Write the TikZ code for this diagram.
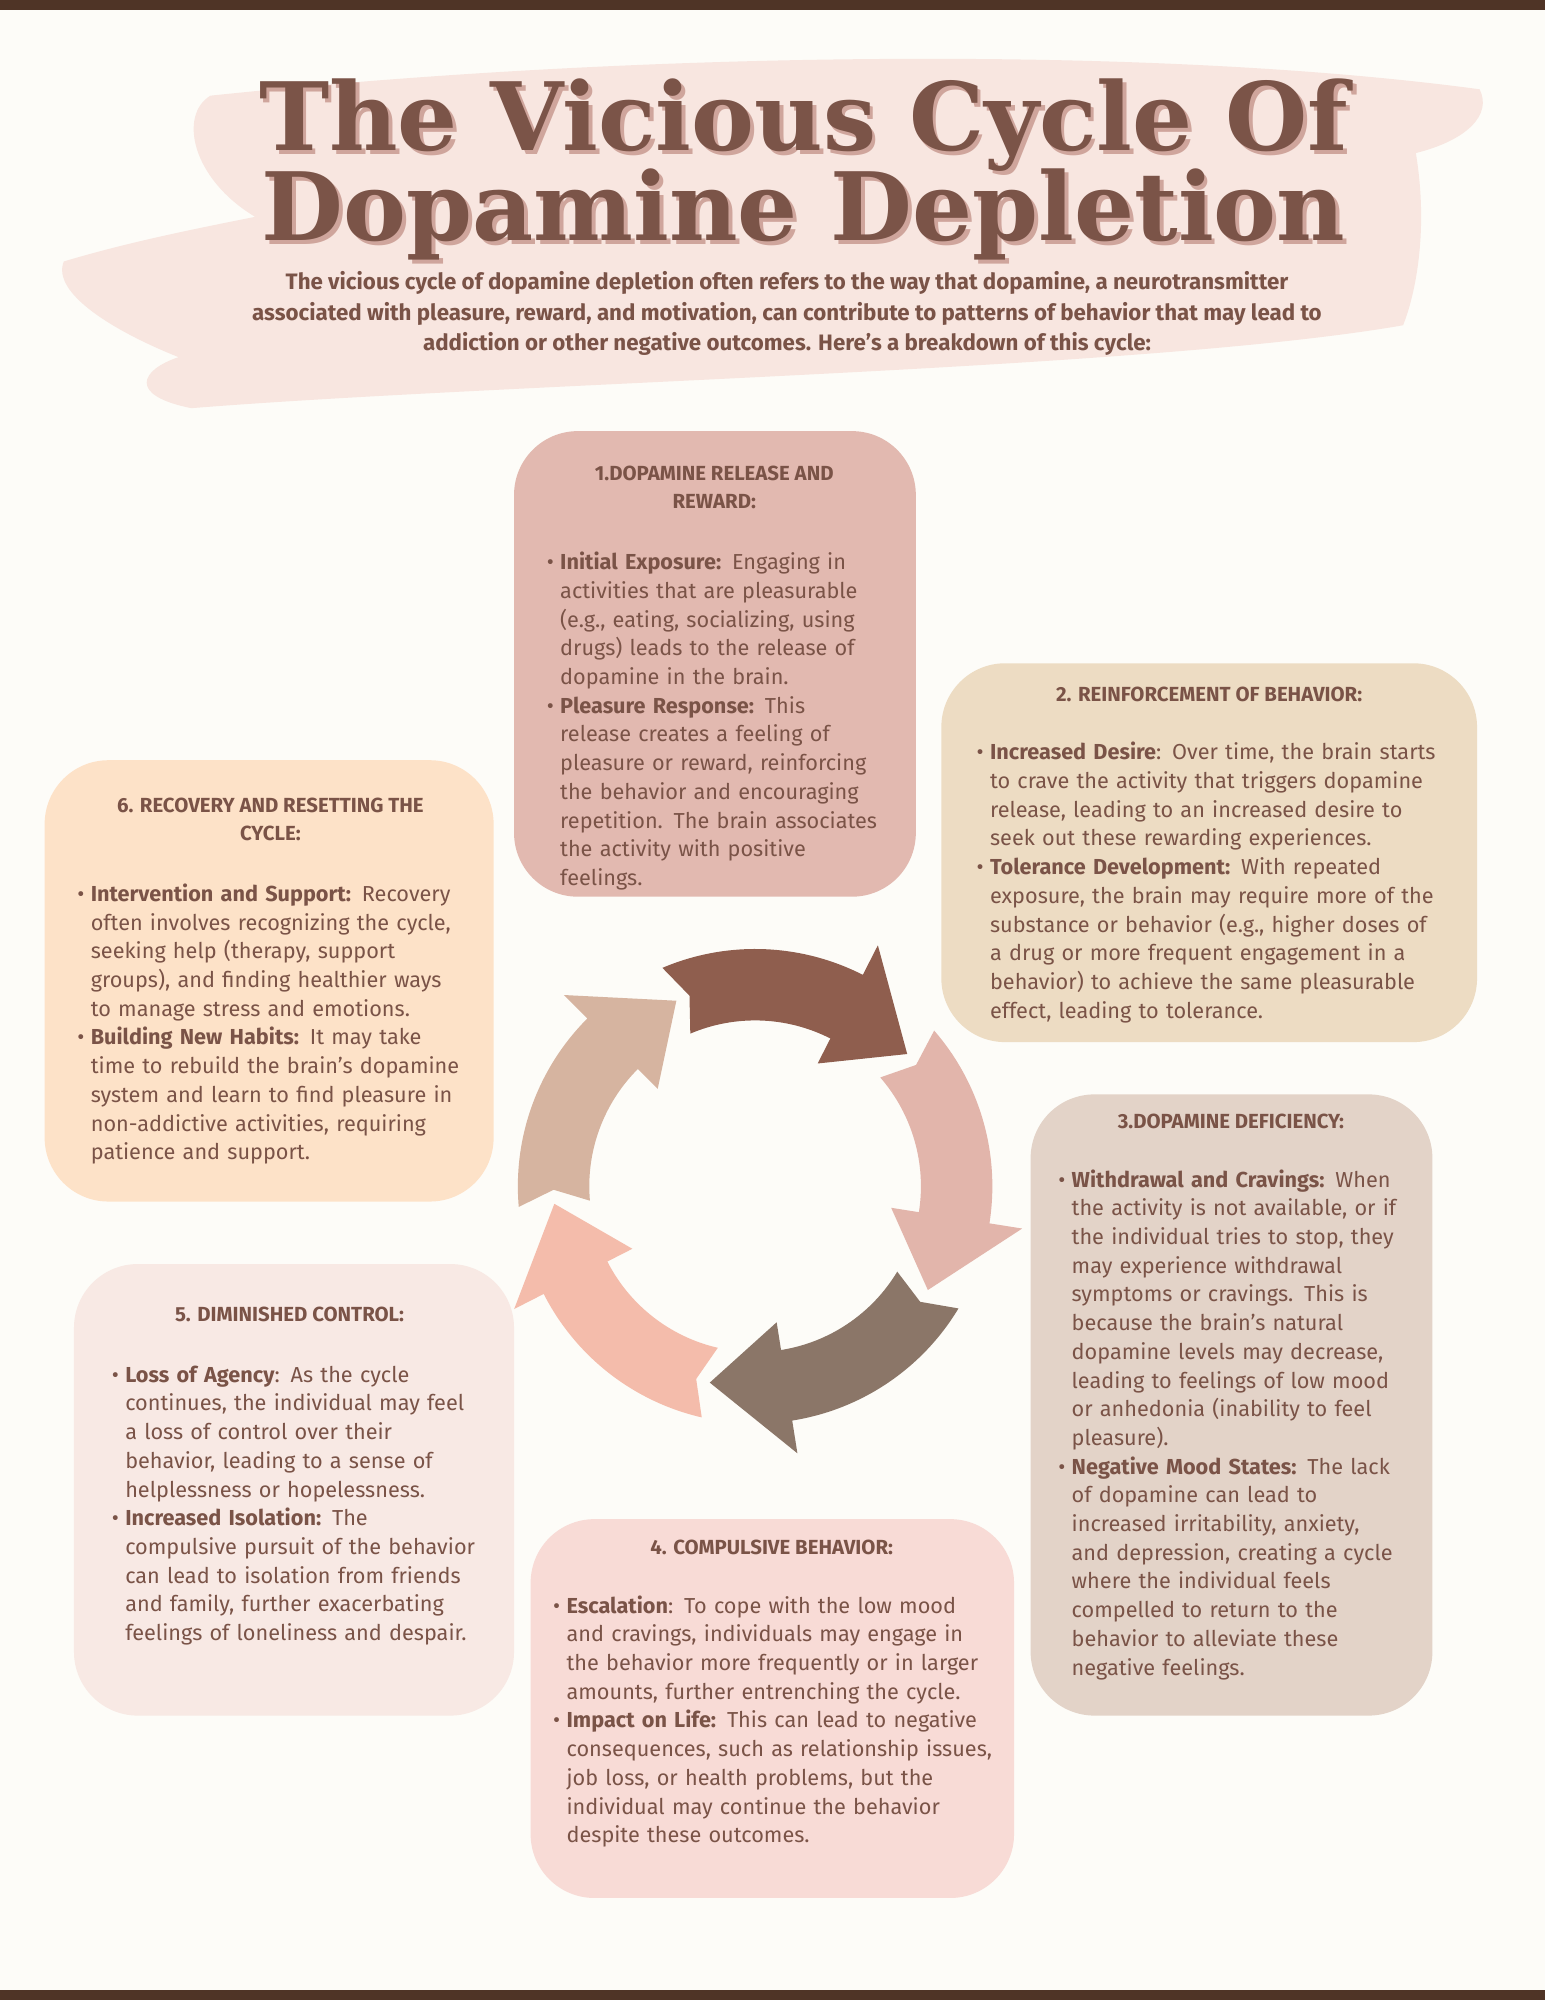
\documentclass[tikz,border=0pt]{standalone}
\usepackage{fontspec}
\setmainfont{Fira Sans}
\newfontfamily\titlefont{DejaVu Serif}
\usepackage{enumitem}
\setlist[itemize]{leftmargin=20pt,itemsep=0pt,topsep=6pt,parsep=0pt,partopsep=0pt,label=\textbullet}
\definecolor{bg}{HTML}{FDFCF8}
\definecolor{bar}{HTML}{4F3426}
\definecolor{txt}{HTML}{7A5347}
\definecolor{ttl}{HTML}{7B5448}
\definecolor{shd}{HTML}{CFA59C}
\definecolor{brush}{HTML}{F8E6E0}
\definecolor{cA}{HTML}{E2B9B0}
\definecolor{cB}{HTML}{EDDCC3}
\definecolor{cC}{HTML}{E3D3C8}
\definecolor{cD}{HTML}{F8DBD6}
\definecolor{cE}{HTML}{F8E9E4}
\definecolor{cF}{HTML}{FDE2C8}
\definecolor{aA}{HTML}{8F5E4E}
\definecolor{aB}{HTML}{E2B5AB}
\definecolor{aC}{HTML}{8B7668}
\definecolor{aD}{HTML}{F4BCAB}
\definecolor{aE}{HTML}{D6B4A0}
\tikzset{
 box/.style={rounded corners=50pt,draw=none},
 head/.style={anchor=north,align=center,text=txt,font=\fontsize{16}{22}\selectfont\bfseries},
 body/.style={anchor=north west,text=txt,font=\fontsize{17}{22.5}\selectfont,inner sep=0pt},
}
\newcommand{\cyc}[2]{% start angle, color
 \fill[#2] (#1:130) arc[start angle=#1,end angle=#1-50,radius=130] -- (#1-50:108)
  -- (#1-72:158) -- (#1-50:212) -- (#1-50:186)
  arc[start angle=#1-50,end angle=#1,radius=186] -- (#1-4:158) -- cycle;}
\begin{document}
\begin{tikzpicture}[x=1pt,y=1pt]
\useasboundingbox (0,0) rectangle (1211,-1568);
\fill[bg] (0,0) rectangle (1211,-1568);
\fill[bar] (0,0) rectangle (1211,-8);
\fill[bar] (0,-1560) rectangle (1211,-1568);
% brush
\fill[brush] (165,-75) .. controls (500,-40) and (900,-35) .. (1160,-70)
 .. controls (1170,-90) and (1150,-110) .. (1110,-120)
 .. controls (1120,-180) and (1110,-230) .. (1100,-255)
 .. controls (900,-290) and (400,-300) .. (150,-320)
 .. controls (100,-310) and (110,-290) .. (140,-280)
 .. controls (90,-260) and (40,-230) .. (50,-205)
 .. controls (100,-190) and (150,-180) .. (200,-170)
 .. controls (150,-140) and (140,-90) .. (165,-75) -- cycle;
% title
\foreach \c/\dx in {shd/3,ttl/0}{
\node[text=\c,font=\titlefont\fontsize{74}{74}\selectfont\bfseries] at (630+\dx,-98-\dx) {The Vicious Cycle Of};
\node[text=\c,font=\titlefont\fontsize{74}{74}\selectfont\bfseries] at (630+\dx,-168-\dx) {Dopamine Depletion};}
\node[text=txt,align=center,font=\fontsize{17.5}{24}\selectfont\bfseries] (sub) at (617,-246) {The vicious cycle of dopamine depletion often refers to the way that dopamine, a neurotransmitter\\ associated with pleasure, reward, and motivation, can contribute to patterns of behavior that may lead to\\ addiction or other negative outcomes. Here’s a breakdown of this cycle:};
% boxes
\fill[box,cA] (403,-338) rectangle (718,-703);
\fill[box,cB] (738,-520) rectangle (1158,-817);
\fill[box,cF] (35,-596) rectangle (387,-942);
\fill[box,cC] (808,-858) rectangle (1123,-1345);
\fill[box,cE] (58,-991) rectangle (403,-1345);
\fill[box,cD] (416,-1191) rectangle (795,-1488);
% box 1
\node[head] (h1) at (560,-362) {1.DOPAMINE RELEASE AND\\REWARD:};
\node[body,text width=272pt] (b1) at (419,-418) {\begin{itemize}\item \textbf{Initial Exposure:} Engaging in activities that are pleasurable (e.g., eating, socializing, using drugs) leads to the release of dopamine in the brain.
\item \textbf{Pleasure Response:} This release creates a feeling of pleasure or reward, reinforcing the behavior and encouraging repetition. The brain associates the activity with positive feelings.\end{itemize}};
% box 2
\node[head] (h2) at (948,-535) {2. REINFORCEMENT OF BEHAVIOR:};
\node[body,text width=375pt] (b2) at (756,-567) {\begin{itemize}\item \textbf{Increased Desire}: Over time, the brain starts to crave the activity that triggers dopamine release, leading to an increased desire to seek out these rewarding experiences.
\item \textbf{Tolerance Development:} With repeated exposure, the brain may require more of the substance or behavior (e.g., higher doses of a drug or more frequent engagement in a behavior) to achieve the same pleasurable effect, leading to tolerance.\end{itemize}};
% box 6
\node[head] (h6) at (212,-622) {6. RECOVERY AND RESETTING THE\\CYCLE:};
\node[body,text width=312pt] (b6) at (51,-678) {\begin{itemize}\item \textbf{Intervention and Support:} Recovery often involves recognizing the cycle, seeking help (therapy, support groups), and finding healthier ways to manage stress and emotions.
\item \textbf{Building New Habits:} It may take time to rebuild the brain's dopamine system and learn to find pleasure in non-addictive activities, requiring patience and support.\end{itemize}};
% box 3
\node[head] (h3) at (965,-870) {3.DOPAMINE DEFICIENCY:};
\node[body,text width=280pt] (b3) at (820,-902) {\begin{itemize}\item \textbf{Withdrawal and Cravings:} When the activity is not available, or if the individual tries to stop, they may experience withdrawal symptoms or cravings. This is because the brain's natural dopamine levels may decrease, leading to feelings of low mood or anhedonia (inability to feel pleasure).
\item \textbf{Negative Mood States:} The lack of dopamine can lead to increased irritability, anxiety, and depression, creating a cycle where the individual feels compelled to return to the behavior to alleviate these negative feelings.\end{itemize}};
% box 5
\node[head] (h5) at (227,-1021) {5. DIMINISHED CONTROL:};
\node[body,text width=300pt] (b5) at (78,-1055) {\begin{itemize}\item \textbf{Loss of Agency}: As the cycle continues, the individual may feel a loss of control over their behavior, leading to a sense of helplessness or hopelessness.
\item \textbf{Increased Isolation:} The compulsive pursuit of the behavior can lead to isolation from friends and family, further exacerbating feelings of loneliness and despair.\end{itemize}};
% box 4
\node[head] (h4) at (605,-1204) {4. COMPULSIVE BEHAVIOR:};
\node[body,text width=360pt] (b4) at (424,-1236) {\begin{itemize}\item \textbf{Escalation}: To cope with the low mood and cravings, individuals may engage in the behavior more frequently or in larger amounts, further entrenching the cycle.
\item \textbf{Impact on Life:} This can lead to negative consequences, such as relationship issues, job loss, or health problems, but the individual may continue the behavior despite these outcomes.\end{itemize}};
% cycle
\begin{scope}[shift={(592,-930)}]
\cyc{113}{aA}
\cyc{41}{aB}
\cyc{-31}{aC}
\cyc{-103}{aD}
\cyc{-175}{aE}
\end{scope}
\end{tikzpicture}
\end{document}
